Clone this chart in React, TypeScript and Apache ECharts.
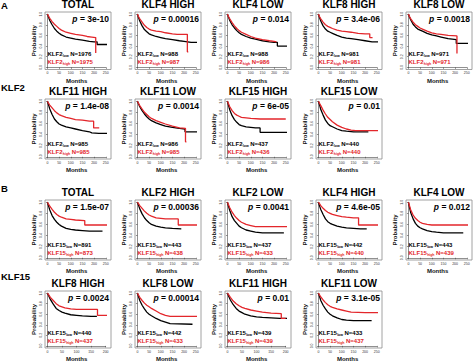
import React, { useEffect, useRef } from "react";
import * as echarts from "echarts";

// ---------- data ----------
const titles = [
  "TOTAL", "KLF4 HIGH", "KLF4 LOW", "KLF8 HIGH", "KLF8 LOW",
  "KLF11 HIGH", "KLF11 LOW", "KLF15 HIGH", "KLF15 LOW",
  "TOTAL", "KLF2 HIGH", "KLF2 LOW", "KLF4 HIGH", "KLF4 LOW",
  "KLF8 HIGH", "KLF8 LOW", "KLF11 HIGH", "KLF11 LOW",
];
const pValues = [
  "3e-10", "0.00016", "0.014", "3.4e-06", "0.0018",
  "1.4e-08", "0.0014", "6e-05", "0.01",
  "1.5e-07", "0.00036", "0.0041", "4.6e-05", "0.012",
  "0.0024", "0.00014", "0.01", "3.1e-05",
];
const genes = [
  "KLF2", "KLF2", "KLF2", "KLF2", "KLF2", "KLF2", "KLF2", "KLF2", "KLF2",
  "KLF15", "KLF15", "KLF15", "KLF15", "KLF15", "KLF15", "KLF15", "KLF15", "KLF15",
];
const nLow = [1976, 988, 988, 981, 971, 985, 986, 437, 440, 891, 443, 437, 442, 443, 440, 442, 439, 433];
const nHigh = [1975, 987, 986, 981, 971, 985, 985, 436, 440, 873, 438, 433, 440, 439, 437, 433, 439, 437];
const xTickMax = [250, 250, 250, 250, 250, 250, 250, 250, 250, 250, 250, 250, 250, 250, 200, 250, 200, 250];
const xDataMax = [262, 262, 262, 262, 262, 262, 262, 262, 262, 262, 262, 262, 262, 262, 210, 262, 210, 262];
const sectionLabels = ["A", "KLF2", "B", "KLF15"];

type P = [number, number];
const a1Low: P[] = [[0,1],[5,0.94],[10,0.88],[20,0.8],[30,0.73],[40,0.68],[50,0.64],[60,0.61],[80,0.57],[100,0.55],[120,0.53],[150,0.51],[180,0.49],[200,0.48],[213,0.48],[213,0.43],[262,0.43]];
const a1High: P[] = [[0,1],[5,0.96],[10,0.92],[20,0.86],[30,0.81],[40,0.77],[50,0.73],[60,0.7],[80,0.66],[100,0.64],[120,0.62],[150,0.6],[170,0.58],[190,0.57],[207,0.56],[207,0.27],[210,0.27]];
const a2Low: P[] = [[0,1],[5,0.93],[10,0.87],[20,0.78],[30,0.71],[40,0.67],[50,0.63],[60,0.61],[80,0.58],[100,0.56],[120,0.54],[150,0.52],[180,0.5],[200,0.49],[215,0.48],[230,0.47],[263,0.47]];
const a2High: P[] = [[0,1],[5,0.95],[10,0.91],[20,0.85],[30,0.79],[40,0.75],[50,0.72],[60,0.7],[80,0.68],[100,0.67],[120,0.65],[150,0.63],[170,0.62],[214,0.62],[214,0.29],[218,0.29]];
const a3Low: P[] = [[0,1],[5,0.94],[10,0.88],[20,0.8],[30,0.74],[40,0.69],[50,0.65],[60,0.62],[80,0.58],[100,0.55],[120,0.53],[150,0.5],[180,0.48],[200,0.47],[214,0.47],[214,0.4],[262,0.4]];
const a3High: P[] = [[0,1],[5,0.95],[10,0.91],[20,0.84],[30,0.78],[40,0.73],[50,0.69],[60,0.66],[80,0.62],[100,0.58],[120,0.55],[150,0.52],[180,0.5],[200,0.49],[210,0.48]];
const a4Low: P[] = [[0,1],[5,0.93],[10,0.87],[20,0.78],[30,0.72],[40,0.68],[50,0.66],[60,0.64],[80,0.6],[100,0.57],[120,0.55],[140,0.54],[170,0.52],[200,0.5],[230,0.48],[263,0.48]];
const a4High: P[] = [[0,1],[5,0.95],[10,0.91],[20,0.85],[30,0.8],[40,0.77],[50,0.75],[60,0.73],[80,0.7],[100,0.68],[120,0.67],[140,0.66],[170,0.64],[200,0.63],[220,0.63],[220,0.56],[232,0.56]];
const a5Low: P[] = [[0,1],[5,0.94],[10,0.89],[20,0.81],[30,0.76],[40,0.72],[50,0.7],[60,0.68],[80,0.64],[100,0.61],[120,0.59],[140,0.57],[170,0.54],[205,0.52],[205,0.45],[263,0.45]];
const a5High: P[] = [[0,1],[5,0.95],[10,0.91],[20,0.85],[30,0.8],[40,0.77],[50,0.74],[60,0.72],[80,0.68],[100,0.65],[120,0.63],[140,0.62],[170,0.6],[208,0.59],[208,0.26],[211,0.26]];
const a6Low: P[] = [[0,1],[5,0.93],[10,0.86],[20,0.76],[30,0.68],[40,0.63],[50,0.59],[60,0.57],[80,0.54],[100,0.52],[120,0.5],[150,0.47],[180,0.45],[190,0.43],[220,0.42],[262,0.42]];
const a6High: P[] = [[0,1],[5,0.96],[10,0.93],[20,0.88],[30,0.83],[40,0.79],[50,0.76],[60,0.74],[80,0.71],[100,0.69],[120,0.67],[150,0.66],[180,0.64],[198,0.64],[198,0.52],[222,0.52]];
const a7Low: P[] = [[0,1],[5,0.95],[10,0.9],[20,0.83],[30,0.77],[40,0.72],[50,0.68],[60,0.65],[80,0.61],[100,0.58],[120,0.55],[150,0.53],[180,0.51],[204,0.5],[204,0.45],[262,0.45]];
const a7High: P[] = [[0,1],[5,0.96],[10,0.92],[20,0.86],[30,0.8],[40,0.76],[50,0.72],[60,0.69],[80,0.65],[100,0.62],[120,0.59],[150,0.55],[180,0.52],[206,0.51],[206,0.27],[210,0.27]];
const a8Low: P[] = [[0,1],[5,0.92],[10,0.84],[20,0.74],[30,0.67],[40,0.62],[50,0.58],[60,0.56],[80,0.54],[100,0.53],[120,0.52],[140,0.52],[140,0.44],[200,0.44],[262,0.44]];
const a8High: P[] = [[0,1],[5,0.95],[10,0.9],[20,0.83],[30,0.78],[40,0.75],[50,0.73],[60,0.71],[80,0.7],[100,0.69],[140,0.68],[200,0.68],[250,0.68]];
const a9Low: P[] = [[0,1],[5,0.93],[10,0.85],[20,0.75],[30,0.66],[40,0.6],[50,0.56],[60,0.54],[80,0.5],[100,0.47],[120,0.46],[150,0.45],[214,0.45]];
const a9High: P[] = [[0,1],[5,0.96],[10,0.92],[20,0.84],[30,0.77],[40,0.71],[50,0.67],[60,0.63],[80,0.57],[100,0.53],[120,0.5],[140,0.48],[160,0.47],[200,0.47],[265,0.47]];
const b1Low: P[] = [[0,1],[5,0.93],[10,0.86],[20,0.76],[30,0.69],[40,0.64],[50,0.6],[60,0.57],[80,0.53],[100,0.51],[120,0.5],[150,0.49],[180,0.48],[236,0.48]];
const b1High: P[] = [[0,1],[5,0.96],[10,0.93],[20,0.87],[30,0.82],[40,0.78],[50,0.75],[60,0.73],[80,0.7],[100,0.69],[120,0.68],[160,0.67],[160,0.59],[264,0.59]];
const b2Low: P[] = [[0,1],[5,0.94],[10,0.88],[20,0.79],[30,0.72],[40,0.67],[50,0.63],[60,0.6],[80,0.57],[100,0.55],[120,0.54],[150,0.53],[188,0.52]];
const b2High: P[] = [[0,1],[5,0.97],[10,0.94],[20,0.89],[30,0.84],[40,0.8],[50,0.77],[60,0.75],[80,0.72],[100,0.71],[120,0.7],[175,0.7],[175,0.59],[264,0.59]];
const b3Low: P[] = [[0,1],[5,0.92],[10,0.85],[20,0.74],[30,0.67],[40,0.62],[50,0.57],[60,0.54],[80,0.5],[100,0.48],[120,0.46],[150,0.45],[242,0.45]];
const b3High: P[] = [[0,1],[5,0.95],[10,0.9],[20,0.82],[30,0.76],[40,0.71],[50,0.67],[60,0.64],[80,0.6],[100,0.58],[120,0.56],[160,0.56],[265,0.56]];
const b4Low: P[] = [[0,1],[5,0.93],[10,0.87],[20,0.78],[30,0.7],[40,0.65],[50,0.62],[60,0.6],[80,0.57],[100,0.55],[120,0.54],[150,0.53],[180,0.52],[207,0.52]];
const b4High: P[] = [[0,1],[5,0.97],[10,0.94],[20,0.89],[30,0.85],[40,0.82],[50,0.8],[60,0.78],[80,0.76],[100,0.74],[120,0.73],[150,0.72],[172,0.72],[172,0.59],[263,0.59]];
const b5Low: P[] = [[0,1],[5,0.9],[10,0.81],[20,0.7],[30,0.62],[40,0.57],[50,0.54],[60,0.52],[80,0.49],[100,0.47],[120,0.46],[150,0.45],[235,0.45]];
const b5High: P[] = [[0,1],[5,0.93],[10,0.86],[20,0.77],[30,0.71],[40,0.67],[50,0.64],[60,0.62],[80,0.6],[100,0.59],[120,0.59],[200,0.59],[266,0.59]];
const b6Low: P[] = [[0,1],[5,0.94],[10,0.88],[20,0.79],[30,0.71],[40,0.67],[50,0.64],[60,0.62],[80,0.59],[100,0.58],[120,0.57],[150,0.56],[170,0.56]];
const b6High: P[] = [[0,1],[5,0.96],[10,0.92],[20,0.86],[30,0.8],[40,0.76],[50,0.74],[60,0.72],[80,0.7],[100,0.69],[130,0.69],[172,0.69],[172,0.58],[210,0.58]];
const b7Low: P[] = [[0,1],[5,0.93],[10,0.86],[20,0.77],[30,0.7],[40,0.64],[50,0.6],[60,0.57],[80,0.52],[100,0.48],[120,0.45],[140,0.42],[236,0.41]];
const b7High: P[] = [[0,1],[5,0.96],[10,0.92],[20,0.86],[30,0.81],[40,0.77],[50,0.74],[60,0.71],[80,0.66],[100,0.61],[120,0.58],[140,0.56],[200,0.56],[268,0.56]];
const b8Low: P[] = [[0,1],[5,0.93],[10,0.87],[20,0.78],[30,0.71],[40,0.66],[50,0.63],[60,0.6],[80,0.57],[100,0.55],[120,0.54],[150,0.53],[180,0.52],[205,0.52]];
const b8High: P[] = [[0,1],[5,0.96],[10,0.92],[20,0.85],[30,0.8],[40,0.76],[50,0.73],[60,0.71],[80,0.68],[100,0.66],[120,0.64],[150,0.62],[185,0.61],[185,0.52],[200,0.52]];
const b9Low: P[] = [[0,1],[5,0.93],[10,0.86],[20,0.77],[30,0.7],[40,0.64],[50,0.6],[60,0.57],[80,0.53],[100,0.5],[120,0.49],[150,0.48],[228,0.48]];
const b9High: P[] = [[0,1],[5,0.96],[10,0.93],[20,0.87],[30,0.82],[40,0.78],[50,0.75],[60,0.73],[80,0.7],[100,0.68],[120,0.66],[140,0.64],[200,0.63],[268,0.63]];

const lowCurves = [a1Low, a2Low, a3Low, a4Low, a5Low, a6Low, a7Low, a8Low, a9Low, b1Low, b2Low, b3Low, b4Low, b5Low, b6Low, b7Low, b8Low, b9Low];
const highCurves = [a1High, a2High, a3High, a4High, a5High, a6High, a7High, a8High, a9High, b1High, b2High, b3High, b4High, b5High, b6High, b7High, b8High, b9High];

// ---------- layout ----------
const FONT = '"Liberation Sans", Arial, Helvetica, sans-serif';
const RED = "#e3262b";
const colLeft = [45, 135, 225, 316, 406];
const rowTop = [12, 99, 200, 291];
const rowH = [57.5, 60, 60, 57];
const BOX_W = 66;
const panelRow = [0, 0, 0, 0, 0, 1, 1, 1, 1, 2, 2, 2, 2, 2, 3, 3, 3, 3];
const panelCol = [0, 1, 2, 3, 4, 0, 1, 2, 3, 0, 1, 2, 3, 4, 0, 1, 2, 3];
const sectionY = [5, 87, 188, 276];

function buildOption() {
  const grids: any[] = [];
  const xAxes: any[] = [];
  const yAxes: any[] = [];
  const series: any[] = [];
  const graphics: any[] = [];

  titles.forEach((title, i) => {
    const L = colLeft[panelCol[i]];
    const T = rowTop[panelRow[i]];
    const H = rowH[panelRow[i]];
    const W = BOX_W;
    const padX = (W * 0.04) / 1.08;
    const padY = (H * 0.04) / 1.08;
    const pxPerMo = W / (1.08 * xDataMax[i]);
    grids.push({
      left: L + padX,
      top: T + padY,
      width: xTickMax[i] * pxPerMo,
      height: H / 1.08,
      show: false,
      containLabel: false,
      outerBoundsMode: "none",
    });
    xAxes.push({
      gridIndex: i,
      type: "value",
      min: 0,
      max: xTickMax[i],
      interval: 50,
      offset: padY,
      axisLine: { show: true, lineStyle: { color: "#444", width: 0.6 } },
      axisTick: { show: true, length: 1.5, lineStyle: { color: "#444", width: 0.6 } },
      axisLabel: { fontSize: 3.5, margin: 1.8, color: "#333", fontFamily: FONT },
      splitLine: { show: false },
      name: "Months",
      nameLocation: "middle",
      nameGap: 8,
      nameTextStyle: { fontSize: 6, fontWeight: "bold", color: "#111", fontFamily: FONT },
    });
    yAxes.push({
      gridIndex: i,
      type: "value",
      min: 0,
      max: 1,
      interval: 0.2,
      offset: padX,
      axisLine: { show: true, lineStyle: { color: "#444", width: 0.6 } },
      axisTick: { show: true, length: 1.5, lineStyle: { color: "#444", width: 0.6 } },
      axisLabel: {
        fontSize: 3.5,
        margin: 1.8,
        rotate: 90,
        color: "#333",
        fontFamily: FONT,
        formatter: (v: number) => v.toFixed(1),
      },
      splitLine: { show: false },
      name: "Probability",
      nameLocation: "middle",
      nameGap: 8,
      nameRotate: 90,
      nameTextStyle: { fontSize: 6, fontWeight: "bold", color: "#111", fontFamily: FONT },
    });
    series.push({
      type: "line",
      xAxisIndex: i,
      yAxisIndex: i,
      data: lowCurves[i],
      symbol: "none",
      clip: false,
      silent: true,
      lineStyle: { color: "#000", width: 1.3 },
    });
    series.push({
      type: "line",
      xAxisIndex: i,
      yAxisIndex: i,
      data: highCurves[i],
      symbol: "none",
      clip: false,
      silent: true,
      lineStyle: { color: RED, width: 1.3 },
    });

    // box
    graphics.push({
      type: "rect",
      silent: true,
      z: 0,
      shape: { x: L, y: T, width: W, height: H },
      style: { fill: "none", stroke: "#8c8c8c", lineWidth: 0.8 },
    });
    // title
    graphics.push({
      type: "text",
      silent: true,
      style: {
        x: L + W / 2,
        y: T - 8,
        text: title,
        align: "center",
        verticalAlign: "middle",
        fontSize: 10,
        fontWeight: "bold",
        fontFamily: FONT,
        fill: "#000",
      },
    });
    // p-value
    graphics.push({
      type: "text",
      silent: true,
      z: 10,
      style: {
        x: L + W - 2,
        y: T + 7,
        text: `{i|p}{n| = ${pValues[i]}}`,
        align: "right",
        verticalAlign: "middle",
        fontSize: 8.5,
        fontWeight: "bold",
        fontFamily: FONT,
        fill: "#000",
        rich: {
          i: { fontSize: 8.5, fontWeight: "bold", fontStyle: "italic", fontFamily: FONT, fill: "#000" },
          n: { fontSize: 8.5, fontWeight: "bold", fontFamily: FONT, fill: "#000" },
        },
      },
    });
    // legend lines
    const legend = (y: number, sub: string, n: number, color: string) => ({
      type: "text",
      silent: true,
      z: 10,
      style: {
        x: L + 2.5,
        y,
        text: `{b|${genes[i]}}{s|${sub}}{b|N=${n}}`,
        align: "left",
        verticalAlign: "middle",
        fontSize: 6,
        fontWeight: "bold",
        fontFamily: FONT,
        fill: color,
        rich: {
          b: { fontSize: 6, fontWeight: "bold", fontFamily: FONT, fill: color, lineHeight: 8 },
          s: {
            fontSize: 3.5,
            fontWeight: "bold",
            fontFamily: FONT,
            fill: color,
            lineHeight: 8,
            verticalAlign: "bottom",
            padding: [0, 1.5, 0, 0.3],
          },
        },
      },
    });
    graphics.push(legend(T + H - 15.5, "low", nLow[i], "#000"));
    graphics.push(legend(T + H - 7.2, "high", nHigh[i], RED));
  });

  sectionLabels.forEach((s, k) => {
    graphics.push({
      type: "text",
      silent: true,
      style: {
        x: 1,
        y: sectionY[k],
        text: s,
        align: "left",
        verticalAlign: "middle",
        fontSize: 9.5,
        fontWeight: "bold",
        fontFamily: FONT,
        fill: "#000",
      },
    });
  });

  return {
    animation: false,
    backgroundColor: "#fff",
    grid: grids,
    xAxis: xAxes,
    yAxis: yAxes,
    series,
    graphic: { elements: graphics },
  };
}

export default function App() {
  const ref = useRef<HTMLDivElement>(null);
  useEffect(() => {
    if (!ref.current) return;
    const chart = echarts.init(ref.current, undefined, { renderer: "svg" });
    chart.setOption(buildOption() as any);
    return () => chart.dispose();
  }, []);
  return (
    <div
      ref={ref}
      style={{ position: "absolute", left: 0, top: 0, width: 474, height: 363, background: "#fff" }}
    />
  );
}
